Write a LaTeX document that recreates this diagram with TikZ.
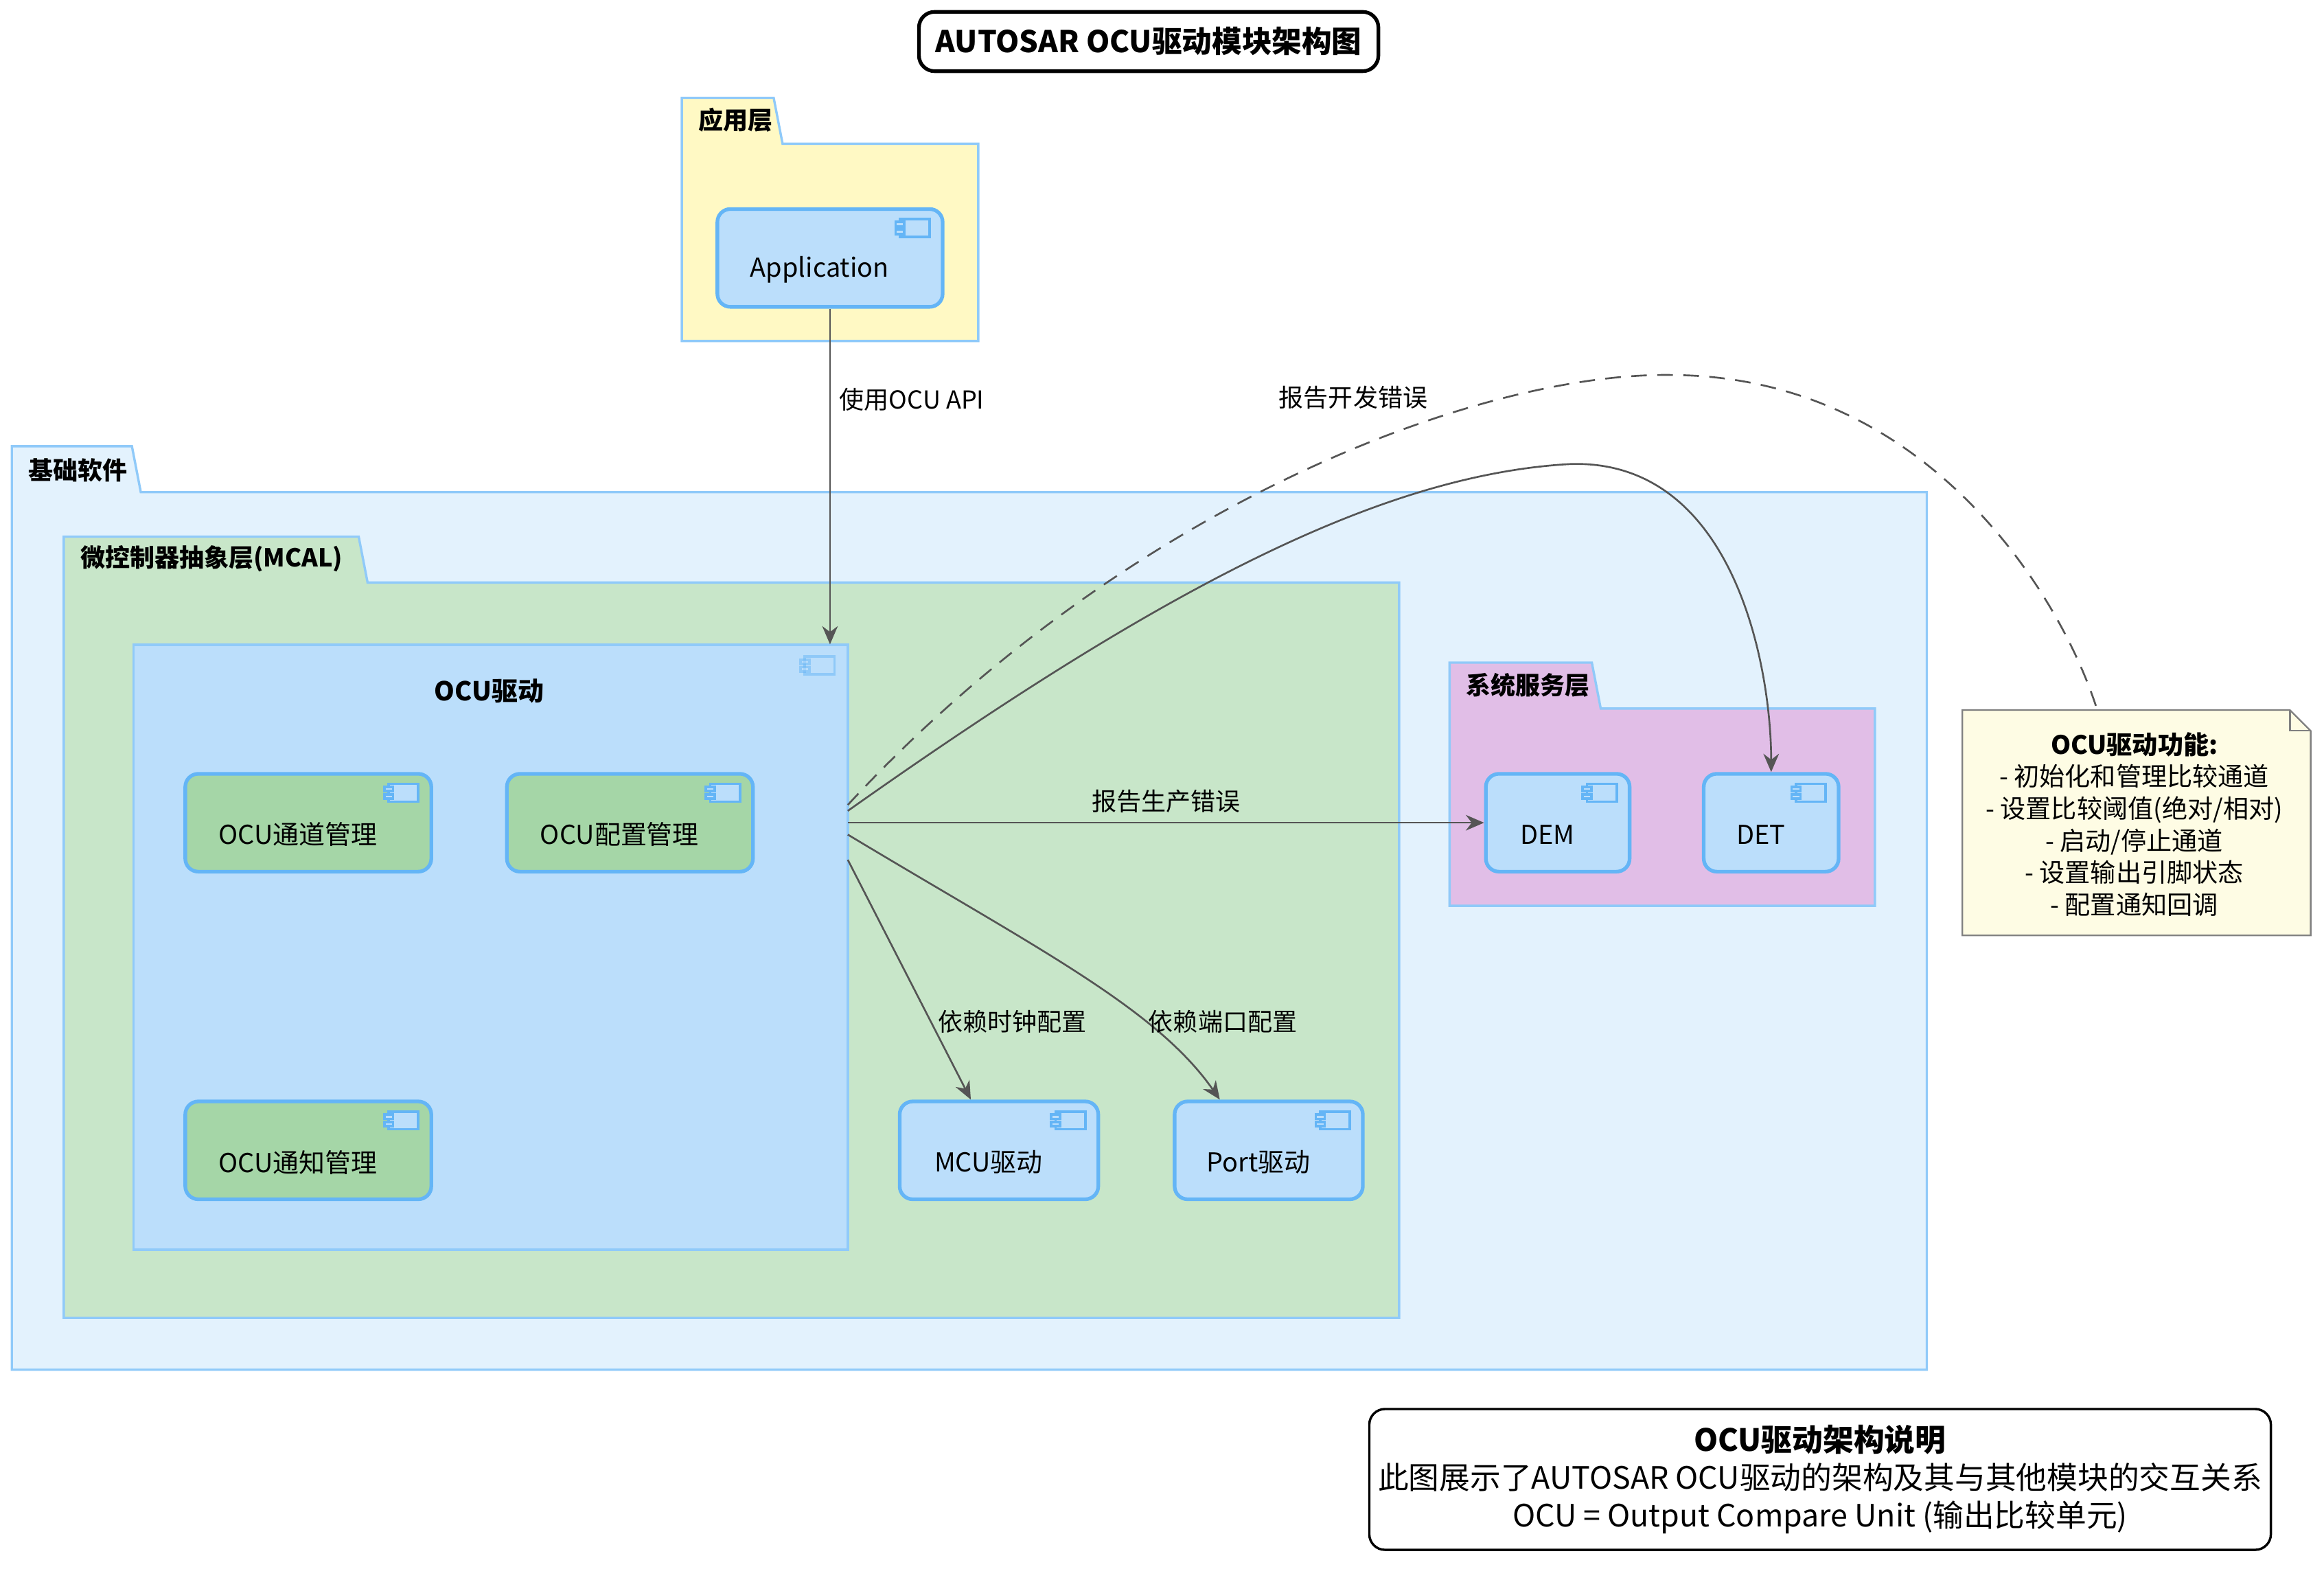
\documentclass[tikz,border=0pt]{standalone}
\usepackage{fontspec}
\setmainfont{Noto Sans CJK SC}
\usetikzlibrary{arrows.meta,calc}
\definecolor{pkgborder}{HTML}{90CAF9}
\definecolor{compborder}{HTML}{64B5F6}
\definecolor{compfill}{HTML}{BBDEFB}
\definecolor{greenfill}{HTML}{A5D6A7}
\definecolor{mcalfill}{HTML}{C8E6C9}
\definecolor{basefill}{HTML}{E3F2FD}
\definecolor{appfill}{HTML}{FFF9C4}
\definecolor{svcfill}{HTML}{E1BEE7}
\definecolor{notefill}{HTML}{FEFCE4}
\definecolor{arr}{HTML}{555555}
\tikzset{
 base/.style={font=\fontsize{10}{12}\selectfont},
 comp/.style={draw=compborder, line width=1.4pt, rounded corners=5pt, fill=compfill, inner sep=0pt},
 gcomp/.style={comp, fill=greenfill},
 pkg/.style={draw=pkgborder, line width=0.9pt},
 tab/.style={font=\fontsize{9.5}{11}\selectfont\bfseries},
 conn/.style={draw=arr, line width=0.7pt, -{Stealth[length=7pt,width=6pt]}},
 lbl/.style={font=\fontsize{9.5}{11}\selectfont, text=black},
 icon/.pic={\draw[compborder, line width=1pt, fill=compfill] (-10,-6) rectangle (10,6);
   \draw[compborder, line width=1pt, fill=compfill] (-13,-4) rectangle (-7,-1) (-13,1) rectangle (-7,4);}
}
\newcommand{\pack}[6]{%
 \draw[pkg, fill=#5] (#1,#2) -- (#3,#2) -- ($(#3,#2)+(6,31)$) -- (#4,{#2+31}) |- (#1,#6) -- cycle;
}
\begin{document}
\begin{tikzpicture}[x=0.02cm,y=-0.02cm,base]
\useasboundingbox[fill=white] (0,0) rectangle (1568,1073);
% title
\node[draw=black, line width=1.4pt, rounded corners=6pt, minimum width=310*0.02cm, font=\fontsize{11.5}{13}\selectfont\bfseries, minimum height=0.8cm] (title) at (775,28) {AUTOSAR OCU驱动模块架构图};
% packages
\pack{460}{66}{522}{660}{appfill}{230}
\node[tab, anchor=west] (app) at (465,81) {应用层};
\pack{8}{301}{89}{1300}{basefill}{924}
\node[tab, anchor=west] (bsw) at (13,317) {基础软件};
\pack{43}{362}{242}{944}{mcalfill}{889}
\node[tab, anchor=west] (mcal) at (48,377) {微控制器抽象层(MCAL)};
\pack{978}{447}{1074}{1265}{svcfill}{611}
\node[tab, anchor=west] (svc) at (983,462) {系统服务层};
% OCU big component
\draw[draw=pkgborder, line width=0.9pt, fill=compfill] (90,435) rectangle (572,843);
\node[inner sep=0pt, minimum width=482*0.02cm, minimum height=408*0.02cm] (ocu) at (331,639) {};
\node[font=\fontsize{10}{12}\selectfont\bfseries] (ocut) at (330,466) {OCU驱动};
\pic[opacity=0.5] at (553,449) {icon};
% components
\newcommand{\comp}[6]{\node[#1, minimum width=#4*0.02cm, minimum height=66*0.02cm] (#2) at (#3) {}; \node at ($(#2.center)+(#6,8)$) {#5}; \pic at ($(#2.north east)+(-20,14)$) {icon};}
\comp{comp}{appl}{560,174}{152}{Application}{-7}
\comp{gcomp}{ch}{208,555}{166}{OCU通道管理}{-7}
\comp{gcomp}{cfg}{425,555}{166}{OCU配置管理}{-7}
\comp{gcomp}{ntf}{208,776}{166}{OCU通知管理}{-7}
\comp{comp}{mcu}{674,776}{134}{MCU驱动}{-7}
\comp{comp}{port}{856,776}{127}{Port驱动}{-7}
\comp{comp}{dem}{1051,555}{97}{DEM}{-7}
\comp{comp}{det}{1195,555}{91}{DET}{-7}
% note
\draw[draw=gray, line width=0.6pt, fill=notefill] (1324,479) -- (1545,479) -- (1559,493) -- (1559,631) -- (1324,631) -- cycle;
\draw[draw=gray, line width=0.6pt] (1545,479) -- (1545,493) -- (1559,493);
\node[align=center, font=\fontsize{9.8}{12.3}\selectfont] (note) at (1440,556) {\textbf{OCU驱动功能:}\\- 初始化和管理比较通道\\- 设置比较阈值(绝对/相对)\\- 启动/停止通道\\- 设置输出引脚状态\\- 配置通知回调};
\coordinate (notetop) at (1415,479);
% description
\node[draw=black, line width=0.9pt, rounded corners=6pt, minimum width=608*0.02cm, minimum height=95*0.02cm, align=center, font=\fontsize{11.8}{14.5}\selectfont] (desc) at (1228,998) {\textbf{OCU驱动架构说明}\\此图展示了AUTOSAR OCU驱动的架构及其与其他模块的交互关系\\OCU = Output Compare Unit (输出比较单元)};
% connectors
\coordinate (o1) at (572,543);
\coordinate (o2) at (572,547);
\coordinate (o3) at (572,555);
\coordinate (o4) at (572,563);
\coordinate (o5) at (572,580);
\draw[conn] (appl.south) -- (ocu.north -| appl.south) node[lbl, pos=0.27, right=0pt] {使用OCU API};
\draw[draw=arr, line width=0.7pt, dash pattern=on 6pt off 4pt] (o1) .. controls (760,340) and (1000,250) .. (1130,253) .. controls (1300,255) and (1390,400) .. (notetop);
\node[lbl] at (913,268) {报告开发错误};
\draw[conn] (o2) .. controls (780,400) and (930,320) .. (1060,313) .. controls (1170,310) and (1195,450) .. (det.north);
\draw[conn] (o3) -- (dem.west |- o3) node[lbl, midway, above] {报告生产错误};
\draw[conn] (o5) -- (mcu.north -| 655,0);
\node[lbl] at (683,689) {依赖时钟配置};
\draw[conn] (o4) .. controls (700,640) and (780,680) .. (port.north -| 823,0);
\node[lbl] at (825,689) {依赖端口配置};
\end{tikzpicture}
\end{document}
